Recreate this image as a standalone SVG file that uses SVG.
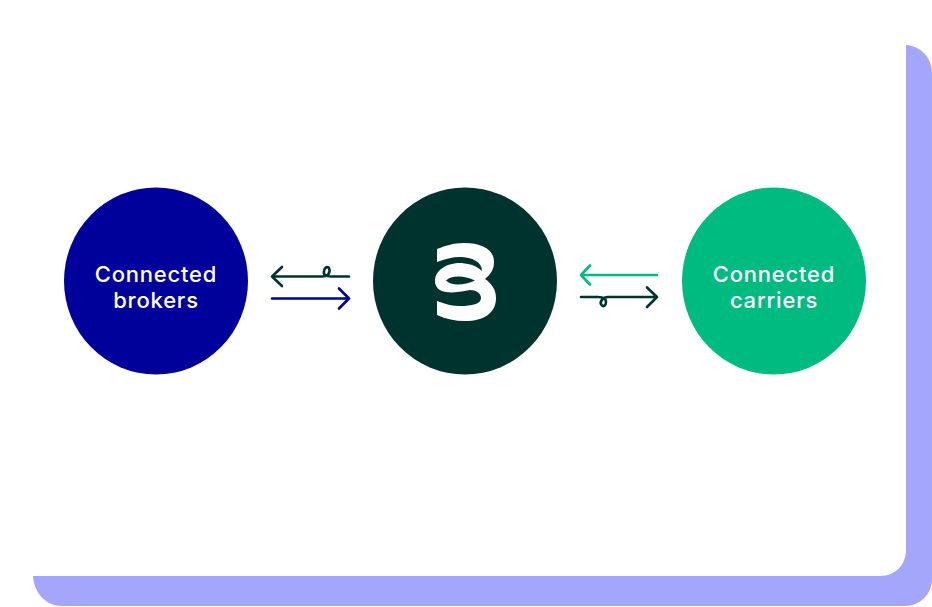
<svg xmlns="http://www.w3.org/2000/svg" width="932" height="607" viewBox="0 0 932 607">
<style>
.lbl{font-family:"Inter","Liberation Sans",sans-serif;font-size:22px;font-weight:500;letter-spacing:.8px;fill:#fff;text-anchor:middle}
.c{fill:none;stroke-width:2.6;stroke-linecap:round;stroke-linejoin:round}
.dark{stroke:#00332D}.blue{stroke:#00009B}.green{stroke:#00BB80}
</style>
<rect width="932" height="607" fill="#fff"/>
<path id="frame" d="M906 45C921 46 932 58 932 73V579C932 594 920 606 905 606H62C46 606 34 593 33 576H880C895 576 906 565 906 550Z" fill="#A4A6FB"/>
<g id="brokers"><ellipse cx="156" cy="281" rx="92" ry="93.500" fill="#00009B"/>
<text class="lbl"><tspan x="156" y="282">Connected</tspan><tspan x="156" y="308">brokers</tspan></text></g>
<g id="hub"><ellipse cx="465" cy="281" rx="92" ry="93.500" fill="#00332D"/>
<path d="M437 249C445 246 453 243 464 243C483 243 494 250 494 262C494 269 491 274 485 279C491 283 496 289 496 298C496 313 484 321 465 321C455 321 446 319 437 315V301C445 304 452 306 460 306C472 306 481 304 481 298C481 293 476 290 470 290C460 292 452 293 446 292C439 291 435 287 435 281C435 271 445 264 458 263C467 263 476 265 482 271C482 262 472 257 460 257C452 257 445 259 437 262Z" fill="#fff"/>
<path d="M446 280.500C451 275 464 275 475 280.500C464 285.500 451 286 446 280.500Z" fill="#00332D"/></g>
<g id="carriers"><ellipse cx="774" cy="281" rx="92" ry="93.500" fill="#00BB80"/>
<text class="lbl"><tspan x="774" y="282">Connected</tspan><tspan x="774" y="308">carriers</tspan></text></g>
<g id="connectors">
<path class="c dark" d="M349 276.500H331C326 276.500 323 275 324 271C325 266 329 266 329.500 270C330 274 327 276.500 322 276.500H272M282 267L272 276.500L282 286"/>
<path class="c blue" d="M272 298.500H349M339 288.500L349 298.500L339 308.500"/>
<path class="c green" d="M657 275H581M590 265.500L581 275L590 284.500"/>
<path class="c dark" d="M581 297H598C603 297 606 299 606 302C606 306 603 307 601.500 305C599 302 603 297 608 297H657M647 287.500L657 297L647 307"/>
</g>
</svg>
